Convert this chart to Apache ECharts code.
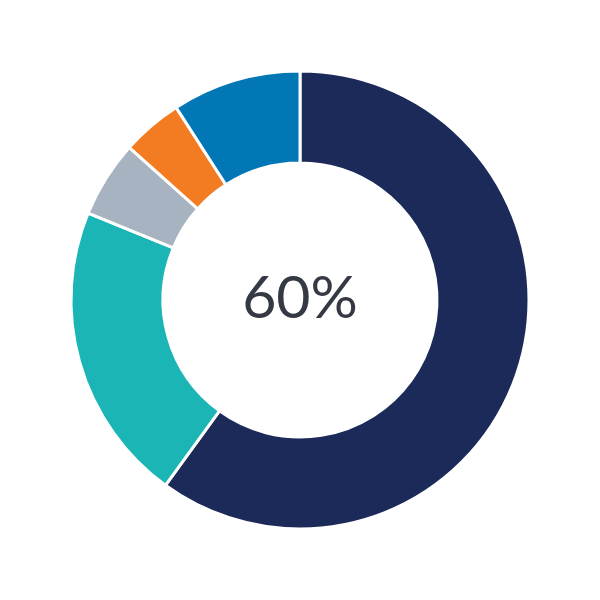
<!DOCTYPE html>
<html>
<head>
<meta charset="utf-8">
<script src="https://cdn.jsdelivr.net/npm/echarts@6/dist/echarts.min.js"></script>
<style>
	html, body { margin: 0; padding: 0; background: #fff; }
	#chart { width: 600px; height: 600px; }
</style>
</head>
<body>
<div id="chart"></div>
<script>
const categories = ['A', 'B', 'C', 'D', 'E'];
const values = [60, 21.2, 5.4, 4.3, 9.1];
const colors = ['#1c2a5a', '#1cb5b5', '#a8b3c1', '#f37b21', '#0277b6'];
const centerLabel = '60%';

function renderChart(chartId) {
	const chart = echarts.init(document.getElementById(chartId));
	chart.setOption({
		animation: false,
		color: colors,
		graphic: [{
			type: 'text',
			left: 'center',
			top: 269,
			style: {
				text: centerLabel,
				font: '400 59px Lato',
				fill: '#343944'
			}
		}],
		series: [{
			type: 'pie',
			center: [300, 300],
			radius: [137, 229],
			startAngle: 90,
			clockwise: true,
			label: { show: false },
			labelLine: { show: false },
			itemStyle: { borderColor: '#fff', borderWidth: 3 },
			data: categories.map((name, i) => ({ name, value: values[i] }))
		}]
	});
	window.addEventListener('resize', () => chart.resize());
}

renderChart('chart');
</script>
</body>
</html>
